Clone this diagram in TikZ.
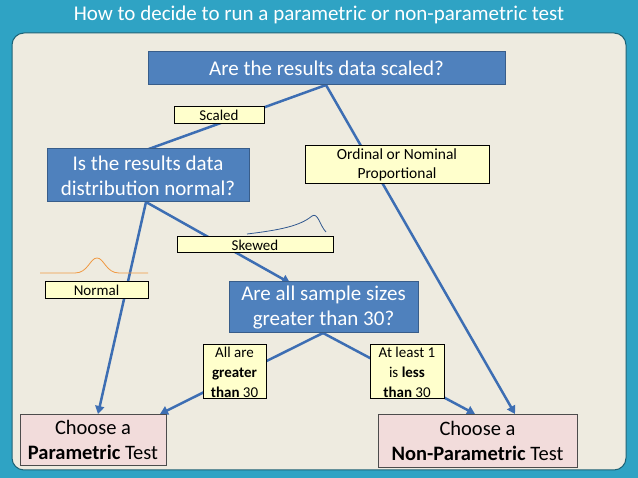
\documentclass[tikz,border=0pt]{standalone}
\usepackage{fontspec}
\setmainfont{Carlito}
\usetikzlibrary{arrows.meta}
\definecolor{teal1}{HTML}{2FA3C4}
\definecolor{panel}{HTML}{EEEBE0}
\definecolor{qfill}{HTML}{4F81BD}
\definecolor{qdraw}{HTML}{385D8A}
\definecolor{lbl}{HTML}{FFFFCC}
\definecolor{pink}{HTML}{F2DCDB}
\definecolor{arr}{HTML}{3D6EB3}
\tikzset{
 q/.style={draw=qdraw,fill=qfill,text=white,font=\fontsize{21}{25}\selectfont,inner sep=0,line width=1pt},
 lb/.style={draw=black,fill=lbl,font=\fontsize{15}{17}\selectfont,inner sep=0,line width=1pt,align=center},
 res/.style={draw=black!70,fill=pink,font=\fontsize{20.5}{25}\selectfont,inner sep=0,align=center,line width=0.8pt},
 con/.style={arr,line width=2.5pt},
 ar/.style={con,-{Triangle[length=8pt,width=9pt]}}
}
\begin{document}
\begin{tikzpicture}[x=1pt,y=-1pt]
\useasboundingbox (0,0) rectangle (638,478);
\fill[teal1] (0,0) rectangle (638,478);
\fill[panel,draw=teal1!60!black,line width=1pt,rounded corners=12pt] (12,33) rectangle (626,470);
\node[text=white,font=\fontsize{21}{24}\selectfont] (title) at (319,15) {How to decide to run a parametric or non-parametric test};
\coordinate (q1b) at (326,85);
\coordinate (q2t) at (146,150);
\coordinate (q2b) at (146,202);
\coordinate (q3t) at (290,283);
\coordinate (q3b) at (323,333);
\coordinate (pt) at (98,414);
\coordinate (pt2) at (160,414);
\coordinate (nt) at (515,414);
\coordinate (nt2) at (475,414);
\draw[con] (q1b) -- (q2t);
\draw[ar] (q1b) -- (nt);
\draw[ar] (q2b) -- (pt);
\draw[ar] (q2b) -- (q3t);
\draw[ar] (q3b) -- (pt2);
\draw[ar] (q3b) -- (nt2);
\draw[orange!70!brown!80,line width=0.8pt] (40,273) -- (75,273) .. controls (88,273) and (90,258) .. (97,258) .. controls (104,258) and (106,273) .. (119,273) -- (148,273);
\draw[arr!80!black,line width=0.8pt] (247,234) .. controls (280,230) and (300,226) .. (312,216) .. controls (318,212) and (320,226) .. (326,232);
\node[q,minimum width=357,minimum height=33] (q1) at (326.5,68.5) {Are the results data scaled?};
\node[lb,minimum width=90,minimum height=17] (scaled) at (219,115.5) {Scaled};
\node[q,minimum width=202,minimum height=53,align=center] (q2) at (148,175.5) {Is the results data\\distribution normal?};
\node[lb,minimum width=184,minimum height=38,font=\fontsize{15.5}{19}\selectfont] (ord) at (397,165) {Ordinal or Nominal\\Proportional};
\node[lb,minimum width=156,minimum height=16] (skew) at (255,245) {Skewed};
\node[lb,minimum width=103,minimum height=17] (normal) at (96.5,290.5) {Normal};
\node[q,minimum width=189,minimum height=51,align=center] (q3) at (323.5,307.5) {Are all sample sizes\\greater than 30?};
\node[lb,minimum width=63,minimum height=54,font=\fontsize{15}{20}\selectfont] (allg) at (234.5,372) {All are\\\textbf{greater}\\\textbf{than} 30};
\node[lb,minimum width=74,minimum height=54,font=\fontsize{15}{20}\selectfont] (less) at (407,372) {At least 1\\is \textbf{less}\\\textbf{than} 30};
\node[res,minimum width=146,minimum height=51] (par) at (93,439.5) {Choose a\\\textbf{Parametric} Test};
\node[res,minimum width=199,minimum height=53] (npar) at (477.5,440.5) {Choose a\\\textbf{Non-Parametric} Test};
\end{tikzpicture}
\end{document}
